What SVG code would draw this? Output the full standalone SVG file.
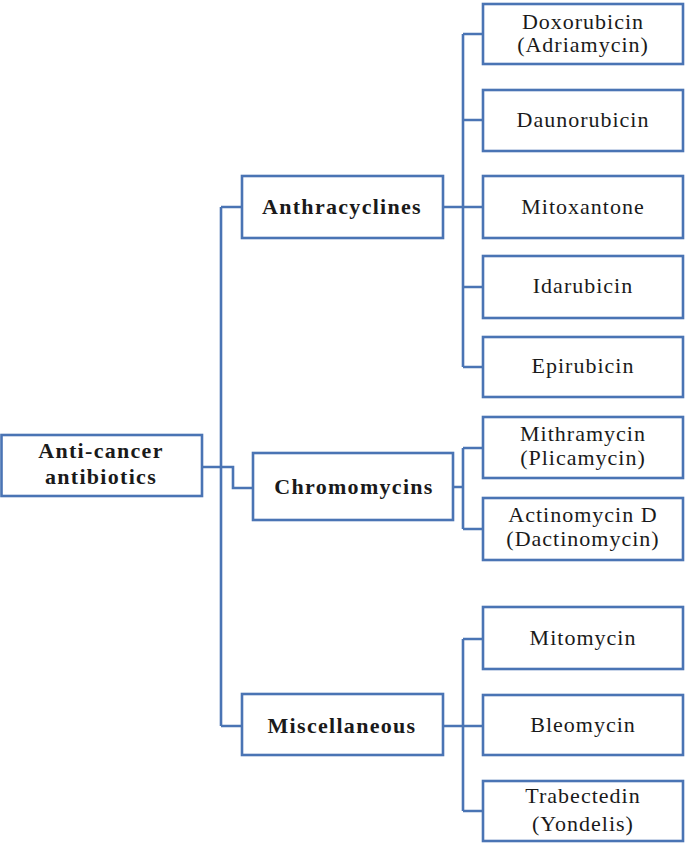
<svg xmlns="http://www.w3.org/2000/svg" width="685" height="843" viewBox="0 0 685 843">
<style>
.box{fill:#fff;stroke:#4a74b4;stroke-width:2.6}
.ln{fill:none;stroke:#4a74b4;stroke-width:2.6}
.t{font-family:"Liberation Serif","Times New Roman",serif;font-size:22px;letter-spacing:1px;fill:#1a1a1a;text-anchor:middle}
.b{font-weight:bold;letter-spacing:1.3px}
</style>
<rect width="685" height="843" fill="#fff"/>
<g id="connectors">
<path class="ln" d="M202,467 H233 V488 H253"/>
<path class="ln" d="M221,207 V726 M221,207 H242 M221,726 H242"/>
<path class="ln" d="M443,207 H463 M463,34 V367 M463,34 H483 M463,120 H483 M463,207 H483 M463,287 H483 M463,367 H483"/>
<path class="ln" d="M453,487 H463 M463,448 V529 M463,448 H483 M463,529 H483"/>
<path class="ln" d="M443,726 H463 M463,639 V811 M463,639 H483 M463,726 H483 M463,811 H483"/>
</g>
<g id="root"><rect class="box" x="1.5" y="435" width="200.5" height="61"/><text class="t b" x="101" y="458">Anti-cancer</text><text class="t b" x="101" y="484">antibiotics</text></g>
<g id="anthracyclines"><rect class="box" x="242" y="176" width="201" height="62"/><text class="t b" x="342" y="214">Anthracyclines</text></g>
<g id="chromomycins"><rect class="box" x="253" y="453" width="200" height="67"/><text class="t b" x="354" y="494">Chromomycins</text></g>
<g id="miscellaneous"><rect class="box" x="242" y="694" width="201" height="61"/><text class="t b" x="342" y="733">Miscellaneous</text></g>
<g id="doxorubicin"><rect class="box" x="483" y="4" width="200" height="60"/><text class="t" x="583" y="29">Doxorubicin</text><text class="t" x="583" y="52">(Adriamycin)</text></g>
<g id="daunorubicin"><rect class="box" x="483" y="90" width="200" height="61"/><text class="t" x="583" y="127">Daunorubicin</text></g>
<g id="mitoxantone"><rect class="box" x="483" y="176" width="200" height="62"/><text class="t" x="583" y="214">Mitoxantone</text></g>
<g id="idarubicin"><rect class="box" x="483" y="256" width="200" height="62"/><text class="t" x="583" y="293">Idarubicin</text></g>
<g id="epirubicin"><rect class="box" x="483" y="337" width="200" height="60"/><text class="t" x="583" y="373">Epirubicin</text></g>
<g id="mithramycin"><rect class="box" x="483" y="417" width="200" height="61"/><text class="t" x="583" y="441">Mithramycin</text><text class="t" x="583" y="465">(Plicamycin)</text></g>
<g id="actinomycin"><rect class="box" x="483" y="498" width="200" height="62"/><text class="t" x="583" y="522">Actinomycin D</text><text class="t" x="583" y="546">(Dactinomycin)</text></g>
<g id="mitomycin"><rect class="box" x="483" y="607" width="200" height="62"/><text class="t" x="583" y="645">Mitomycin</text></g>
<g id="bleomycin"><rect class="box" x="483" y="695" width="200" height="60"/><text class="t" x="583" y="732">Bleomycin</text></g>
<g id="trabectedin"><rect class="box" x="483" y="781" width="200" height="60"/><text class="t" x="583" y="803">Trabectedin</text><text class="t" x="583" y="831">(Yondelis)</text></g>
</svg>
